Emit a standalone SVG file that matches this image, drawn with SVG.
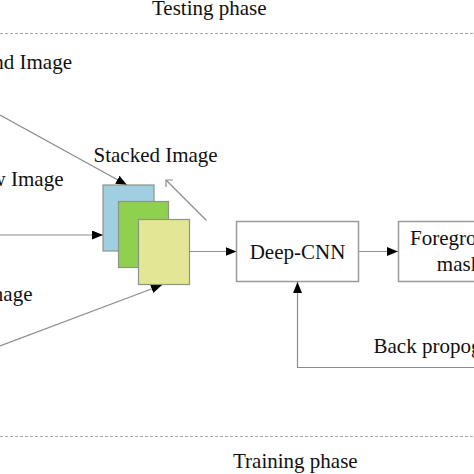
<svg xmlns="http://www.w3.org/2000/svg" width="474" height="474" viewBox="0 0 474 474">
<style>
text{font-family:"Liberation Serif","Times New Roman",serif;font-size:21px;fill:#111}
.ln{stroke:#8c8c8c;stroke-width:1.2;fill:none}
.dash{stroke:#a8a8a8;stroke-width:1.2;stroke-dasharray:3 2;fill:none}
.box{fill:#fff;stroke:#9a9a9a;stroke-width:1.5}
.img{stroke:#8a9688;stroke-width:1.2}
</style>
<defs>
<marker id="ah" markerUnits="userSpaceOnUse" markerWidth="12" markerHeight="10" refX="11" refY="4.5" orient="auto">
<path d="M0,0 L11,4.5 L0,9 Z" fill="#000"/>
</marker>
</defs>
<rect width="474" height="474" fill="#fff"/>
<g id="phases">
<line class="dash" x1="0" y1="33.5" x2="474" y2="33.5"/>
<line class="dash" x1="0" y1="436.5" x2="474" y2="436.5"/>
<text x="152" y="15">Testing phase</text>
<text x="233" y="468">Training phase</text>
</g>
<g id="connectors">
<line class="ln" x1="0" y1="115" x2="127" y2="185" marker-end="url(#ah)"/>
<line class="ln" x1="0" y1="235" x2="103" y2="235" marker-end="url(#ah)"/>
<line class="ln" x1="0" y1="346" x2="162" y2="285" marker-end="url(#ah)"/>
<line class="ln" x1="189" y1="251.5" x2="236.5" y2="251.5" marker-end="url(#ah)"/>
<line class="ln" x1="358.5" y1="251.5" x2="398" y2="251.5" marker-end="url(#ah)"/>
<polyline class="ln" points="474,367.5 297.5,367.5 297.5,282" marker-end="url(#ah)"/>
<line class="ln" x1="206.5" y1="220.5" x2="166" y2="180"/>
<polyline class="ln" points="173,180 166,180 166,187"/>
</g>
<g id="inputs">
<text x="72" y="69" text-anchor="end">Background Image</text>
<text x="63.5" y="186" text-anchor="end">New Image</text>
<text x="32.5" y="301" text-anchor="end">Image</text>
</g>
<g id="stacked">
<text x="93.5" y="161.5">Stacked Image</text>
<rect class="img" x="103" y="185" width="51" height="66" fill="#9fcfe0"/>
<rect class="img" x="118.5" y="201.5" width="50" height="66" fill="#8fd04e"/>
<rect class="img" x="138.5" y="219.5" width="51" height="65" fill="#e3e695"/>
</g>
<g id="deepcnn">
<rect class="box" x="236.5" y="221.5" width="122" height="60"/>
<text x="297.5" y="259" text-anchor="middle">Deep-CNN</text>
</g>
<g id="foreground">
<rect class="box" x="398.5" y="221.5" width="122" height="60"/>
<text x="459" y="245" text-anchor="middle">Foreground</text>
<text x="459" y="271" text-anchor="middle">mask</text>
</g>
<g id="backprop">
<text x="373.5" y="352.5">Back propogation</text>
</g>
</svg>
